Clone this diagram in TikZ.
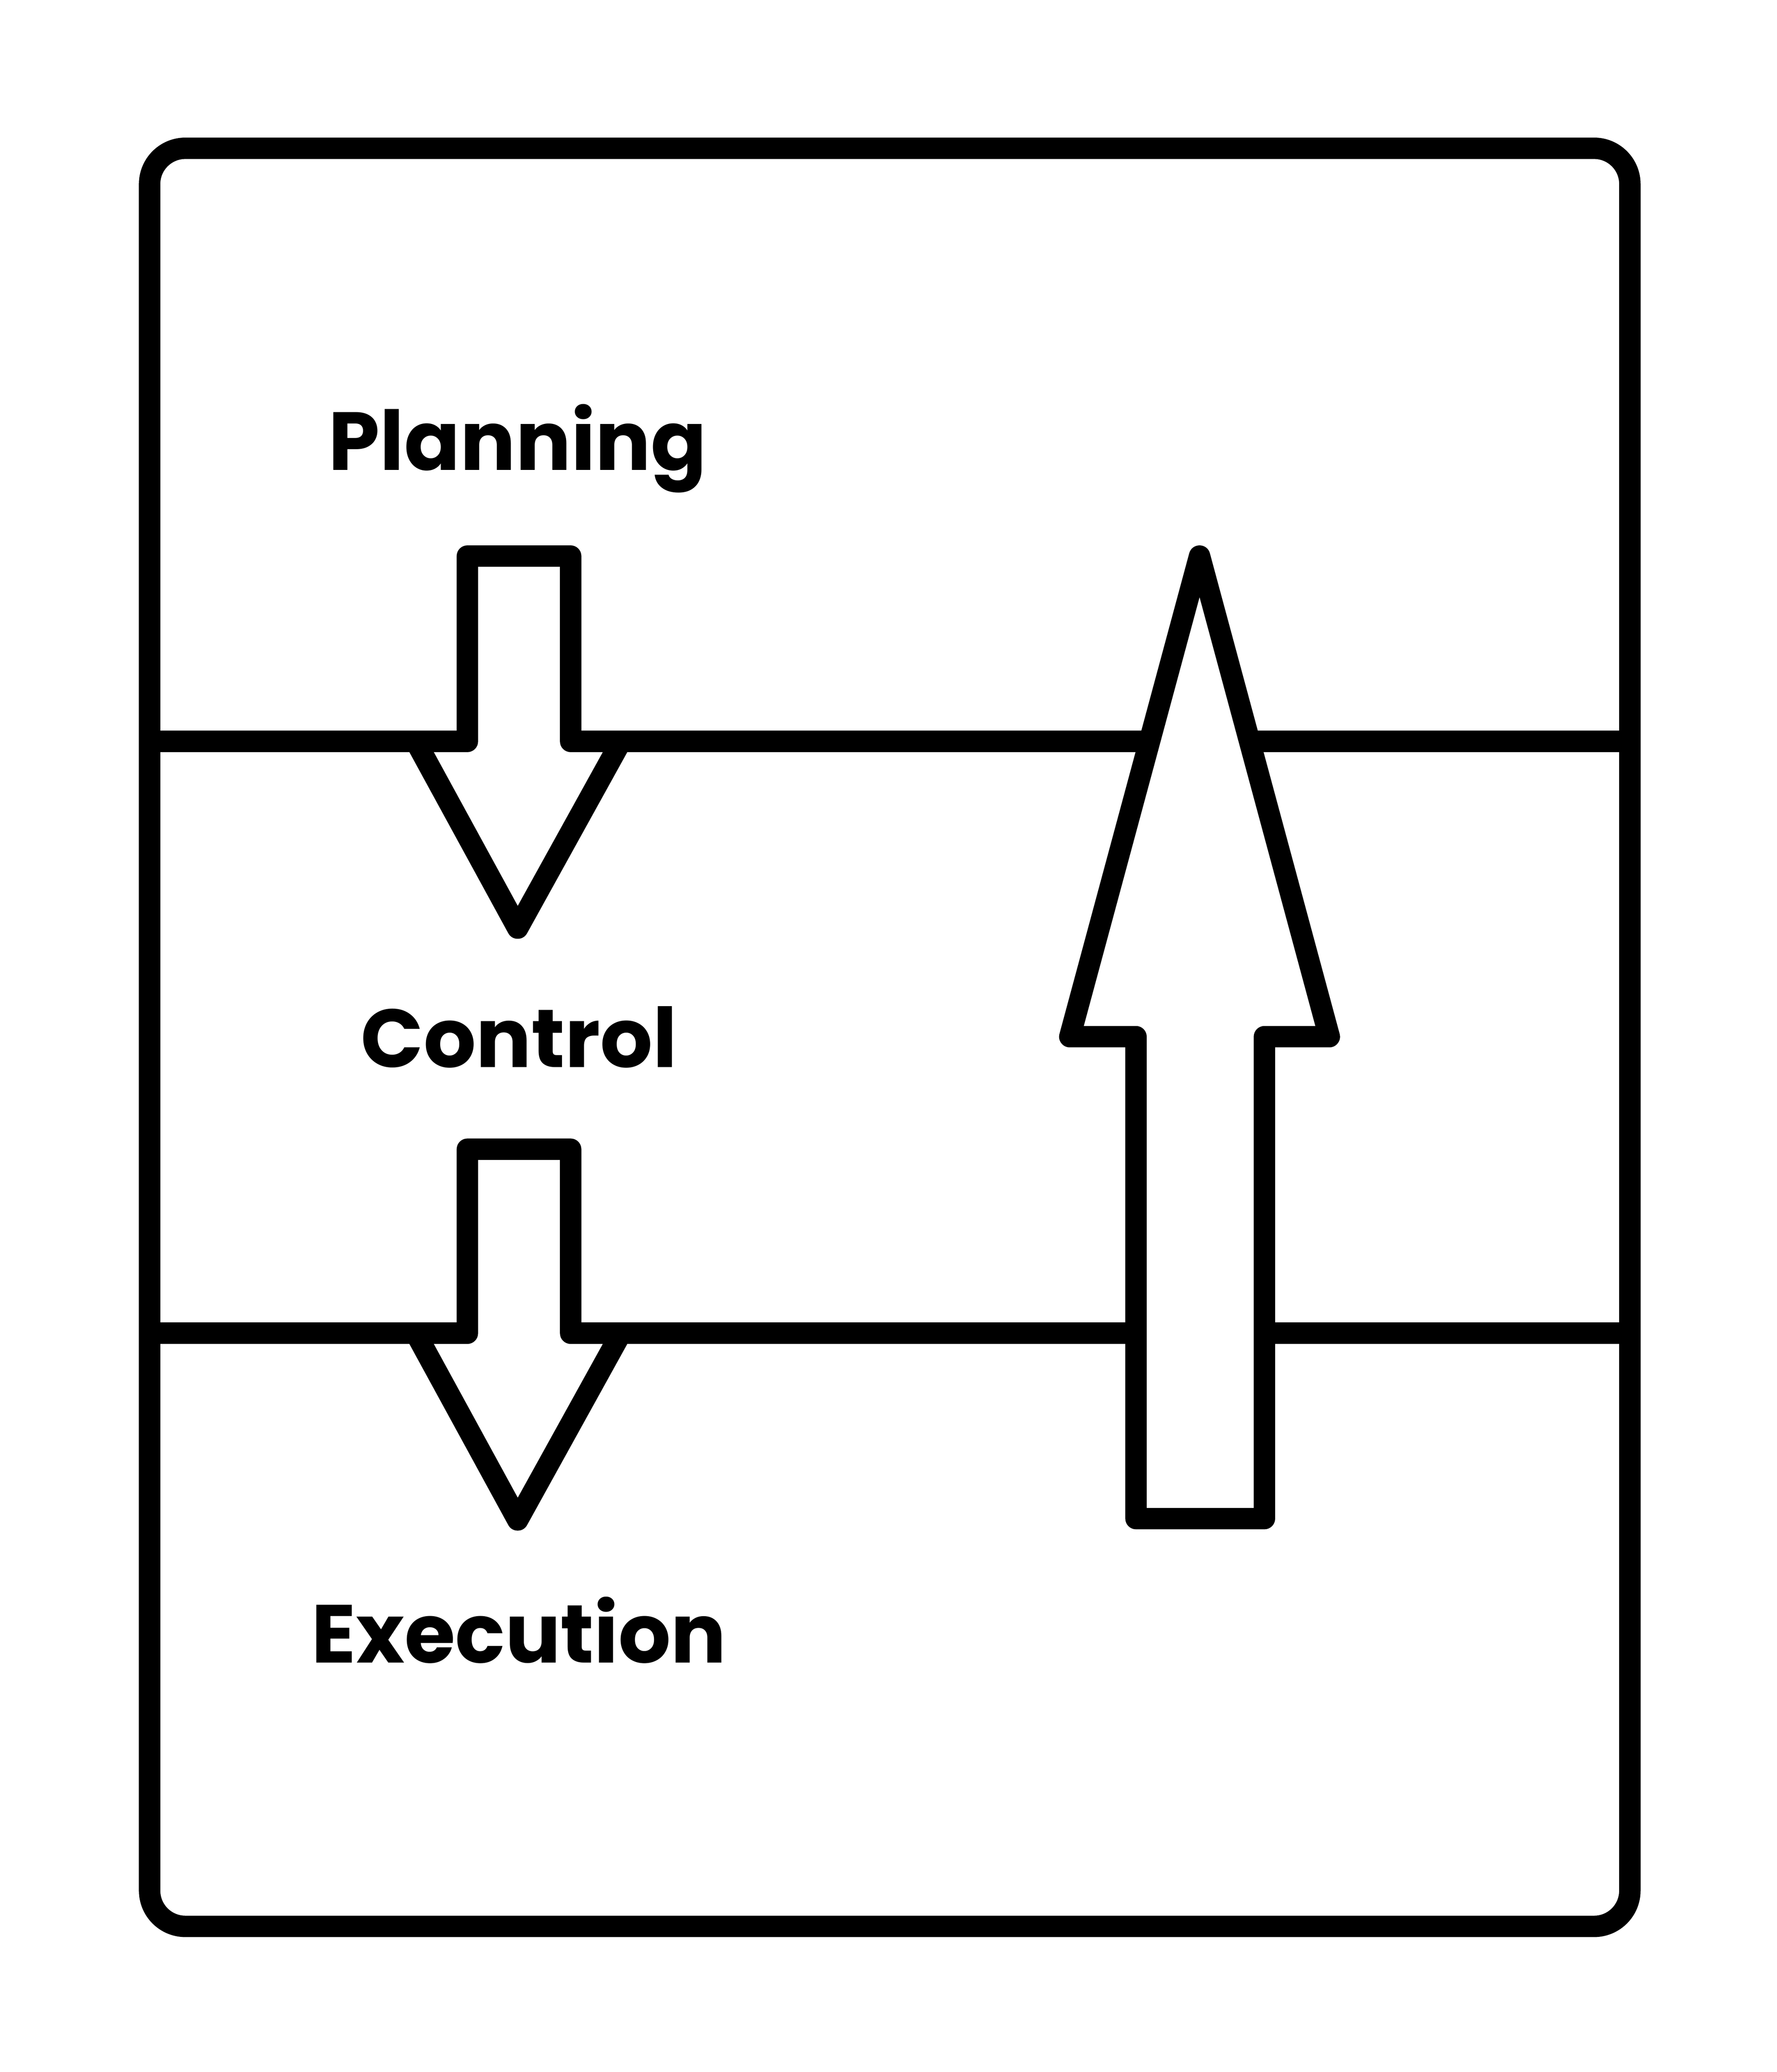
\documentclass[tikz,border=0pt]{standalone}
\usepackage{fontspec}
\setmainfont{Poppins}
\begin{document}
\begin{tikzpicture}[x=1mm, y=-1mm,
    outline/.style={draw, line width=46pt, line join=round},
    arrowshape/.style={outline, fill=white},
    layer/.style={font=\fontsize{177}{190}\selectfont\bfseries, anchor=base, inner sep=0pt}]
            \useasboundingbox (0,0) rectangle (1342,1565);

            \draw[outline, rounded corners=27mm] (113,112) rectangle (1231,1455);
            \draw[outline] (113,560) -- (1231,560);
            \draw[outline] (113,1007) -- (1231,1007);

            \draw[arrowshape] (353,420) -- (431,420) -- (431,560) -- (469,560) -- (391,701) -- (314,560) -- (353,560) -- cycle;
            \draw[arrowshape] (353,868) -- (431,868) -- (431,1007) -- (469,1007) -- (391,1148) -- (314,1007) -- (353,1007) -- cycle;
            \draw[arrowshape] (906,420) -- (1004,783) -- (955,783) -- (955,1147) -- (858,1147) -- (858,783) -- (808,783) -- cycle;

            \node (plan) at (391,355) [layer] {Planning};
            \node (ctrl) at (392,806) [layer] {Control};
            \node (exec) at (392,1256) [layer] {Execution};

        \end{tikzpicture}
\end{document}
